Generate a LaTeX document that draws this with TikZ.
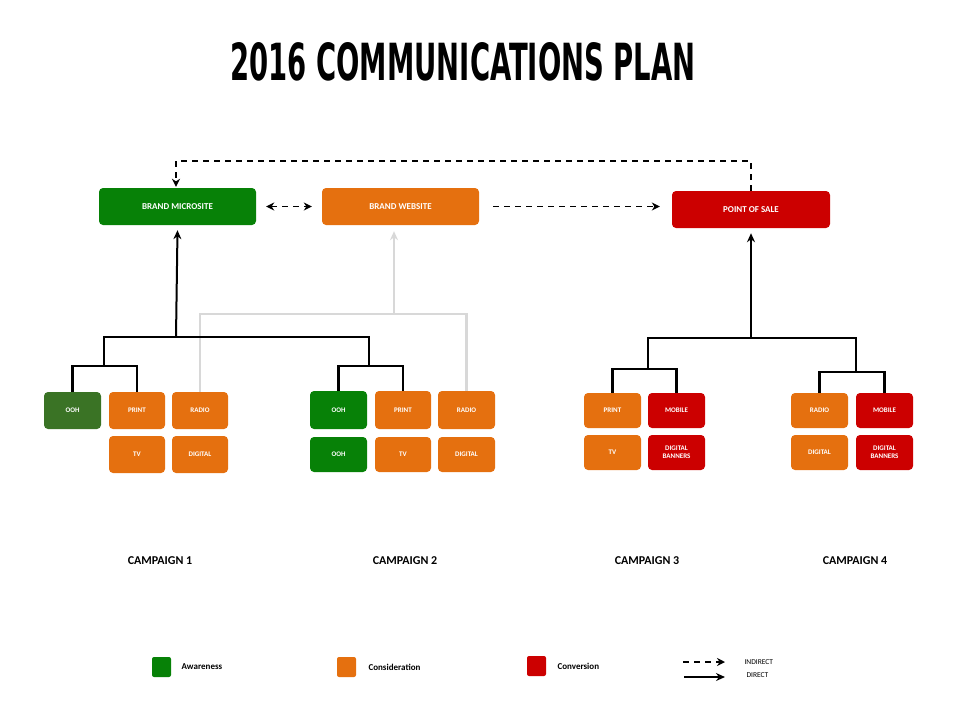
\documentclass[tikz,border=0pt]{standalone}
\usepackage{fontspec}
\setmainfont{Carlito}
\newfontfamily\titlefont{DejaVu Sans Condensed}
\usetikzlibrary{arrows.meta}
\definecolor{cgreen}{HTML}{078107}
\definecolor{cdgreen}{HTML}{3A7325}
\definecolor{corange}{HTML}{E5700F}
\definecolor{cred}{HTML}{CC0000}
\definecolor{cgray}{HTML}{D8D8D8}
\tikzset{
 bx/.style={rounded corners=4pt,text=white,font=\bfseries\fontsize{7}{8}\selectfont,align=center,inner sep=0pt},
 big/.style={bx,font=\bfseries\fontsize{9}{10}\selectfont},
 tree/.style={line width=2.2pt,black},
 gtree/.style={line width=2.2pt,cgray},
 dir/.style={line width=2pt,-{Stealth[length=9pt,width=8pt]}},
 ind/.style={line width=1.6pt,dash pattern=on 6pt off 5pt,-{Stealth[length=8pt,width=8pt]}},
 camp/.style={font=\bfseries\fontsize{12}{14}\selectfont},
 leg/.style={font=\bfseries\fontsize{9}{10}\selectfont,anchor=west},
}
\newcommand{\smallbox}[7]{\node[bx,fill=#6,minimum width={#3-#2},minimum height={#5-#4}] (#1) at ({(#2+#3)/2},{(#4+#5)/2}) {#7};}
\begin{document}
\begin{tikzpicture}[x=1pt,y=-1pt]
\useasboundingbox (0,0) rectangle (960,720);
\node (title) at (463,62) {\resizebox{465pt}{38pt}{\titlefont\bfseries 2016 COMMUNICATIONS PLAN}};
% top nodes
\node[big,fill=cgreen,minimum width=157pt,minimum height=37pt] (bm) at (177.5,206.5) {BRAND MICROSITE};
\node[big,fill=corange,minimum width=157pt,minimum height=37pt] (bw) at (400.5,206.5) {BRAND WEBSITE};
\node[big,fill=cred,minimum width=158pt,minimum height=37pt] (ps) at (751,209.5) {POINT OF SALE};
% small boxes
\smallbox{a1}{44}{101}{392}{429}{cdgreen}{OOH}
\smallbox{a2}{109}{165}{392}{429}{corange}{PRINT}
\smallbox{a3}{172}{228}{392}{429}{corange}{RADIO}
\smallbox{a4}{109}{165}{436}{473}{corange}{TV}
\smallbox{a5}{172}{228}{436}{473}{corange}{DIGITAL}
\smallbox{b1}{310}{367}{391}{429}{cgreen}{OOH}
\smallbox{b2}{375}{431}{391}{429}{corange}{PRINT}
\smallbox{b3}{438}{495}{391}{429}{corange}{RADIO}
\smallbox{b4}{310}{367}{437}{472}{cgreen}{OOH}
\smallbox{b5}{375}{431}{437}{472}{corange}{TV}
\smallbox{b6}{438}{495}{437}{472}{corange}{DIGITAL}
\smallbox{c1}{584}{641}{393}{428}{corange}{PRINT}
\smallbox{c2}{648}{705}{393}{428}{cred}{MOBILE}
\smallbox{c3}{584}{641}{435}{470}{corange}{TV}
\smallbox{c4}{648}{705}{435}{470}{cred}{DIGITAL\\BANNERS}
\smallbox{d1}{791}{848}{393}{428}{corange}{RADIO}
\smallbox{d2}{856}{913}{393}{428}{cred}{MOBILE}
\smallbox{d3}{791}{848}{435}{470}{corange}{DIGITAL}
\smallbox{d4}{856}{913}{435}{470}{cred}{DIGITAL\\BANNERS}
% gray tree
\coordinate (gj) at (394,314);
\draw[gtree] (a3.north) |- (gj) -| (b3.north);
\draw[gtree,-{Stealth[length=9pt,width=8pt]}] (gj) -- ([yshift=-6pt]bw.south -| gj);
% black tree left
\coordinate (lj) at (176,337);
\coordinate (l1) at (104,366);
\coordinate (l2) at (369,366);
\draw[tree] (a1.north) |- (l1) -| (a2.north);
\draw[tree] (l1) |- (lj) -| (l2);
\draw[tree] (b1.north) |- (l2) -| (b2.north);
\draw[dir] (lj) -- ([yshift=-5pt]bm.south);
% right tree
\coordinate (rj) at (751,338);
\coordinate (r1) at (648,369);
\coordinate (r2) at (856,372);
\draw[tree] (c1.north) |- (r1) -| (c2.north);
\draw[tree] (d1.north) |- (r2) -| (d2.north);
\draw[tree] (r1) |- (rj) -| (r2);
\draw[dir] (rj) -- ([yshift=-5pt]ps.south);
% indirect arrows
\coordinate (tl) at (176,161);
\draw[ind] (ps.north) |- (tl) -- ([yshift=1pt]bm.north -| tl);
\draw[ind,{Stealth[length=8pt,width=8pt]}-{Stealth[length=8pt,width=8pt]}] ([xshift=10pt]bm.east) -- ([xshift=-10pt]bw.west);
\draw[ind] ([xshift=14pt]bw.east) -- ([xshift=-12pt]ps.west |- bw.east);
% campaigns
\node[camp] (k1) at (160,561) {CAMPAIGN 1};
\node[camp] (k2) at (405,561) {CAMPAIGN 2};
\node[camp] (k3) at (647,561) {CAMPAIGN 3};
\node[camp] (k4) at (855,561) {CAMPAIGN 4};
% legend
\node[fill=cgreen,rounded corners=2pt,minimum width=19pt,minimum height=20pt,inner sep=0pt] (lg) at (161.5,667) {};
\node[leg] (lgt) at (178,667) {Awareness};
\node[fill=corange,rounded corners=2pt,minimum width=19pt,minimum height=20pt,inner sep=0pt] (lo) at (346.5,667) {};
\node[leg] (lot) at (365,667) {Consideration};
\node[fill=cred,rounded corners=2pt,minimum width=19pt,minimum height=20pt,inner sep=0pt] (lr) at (536.5,666) {};
\node[leg] (lrt) at (554,666) {Conversion};
\coordinate (i1) at (683,662); \coordinate (i2) at (725,662);
\coordinate (d1a) at (684,677); \coordinate (d2a) at (725,677);
\draw[ind] (i1) -- (i2);
\draw[dir] (d1a) -- (d2a);
\node[anchor=west,font=\fontsize{7.5}{8}\selectfont] (it) at (741,662) {INDIRECT};
\node[anchor=west,font=\fontsize{7.5}{8}\selectfont] (dt) at (743,675) {DIRECT};
\end{tikzpicture}
\end{document}
